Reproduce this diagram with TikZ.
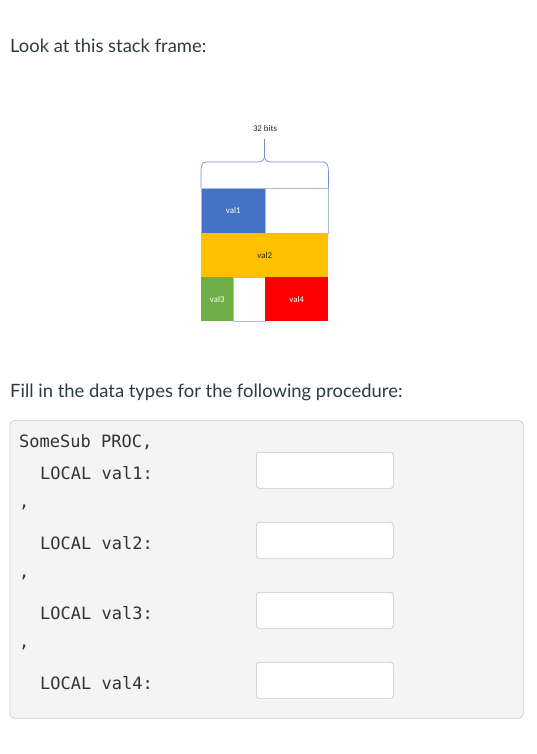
\documentclass[tikz,border=0pt]{standalone}
\usepackage{fontspec}
\setmainfont{Lato}
\newfontfamily\codefont{DejaVu Sans Mono}
\newfontfamily\calfont{Carlito}
\definecolor{txt}{HTML}{2D3B45}
\definecolor{codetxt}{HTML}{333333}
\definecolor{cblue}{HTML}{4472C4}
\definecolor{cyellow}{HTML}{FFC000}
\definecolor{cgreen}{HTML}{70AD47}
\definecolor{cred}{HTML}{FF0000}
\definecolor{cline}{HTML}{A9BCD9}
\definecolor{brace}{HTML}{7090CC}
\definecolor{panel}{HTML}{F4F4F4}
\definecolor{panelline}{HTML}{CBCBCB}
\definecolor{inline}{HTML}{C8C8C8}
\begin{document}
\begin{tikzpicture}[x=1pt,y=-1pt,
  prose/.style={anchor=base west, inner sep=0pt, text=txt, font=\fontsize{18.4}{22}\selectfont},
  code/.style={anchor=base west, inner sep=0pt, text=codetxt, font=\codefont\fontsize{17}{20}\selectfont},
  cell/.style={anchor=north west, inner sep=0pt, draw=cline, line width=0.4pt, font=\calfont\fontsize{8.8}{10}\selectfont},
  inbox/.style={anchor=north west, inner sep=0pt, draw=inline, fill=white, rounded corners=3pt, minimum width=137pt, minimum height=36pt, line width=0.7pt}]
\useasboundingbox (0,0) rectangle (537,754);
\fill[white] (0,0) rectangle (537,754);
% prose
\node[prose] (t1) at (10,53) {Look at this stack frame:};
\node[prose] (t2) at (10,397) {Fill in the data types for the following procedure:};
% stack frame
\node[cell, fill=cblue, text=white, minimum width=64pt, minimum height=45pt] (v1) at (201,188) {val1};
\node[cell, fill=white, minimum width=63pt, minimum height=45pt] (e1) at (265,188) {};
\node[cell, fill=cyellow, draw=none, text=black!85, minimum width=127pt, minimum height=44pt] (v2) at (201,233) {val2};
\node[cell, fill=cgreen, draw=none, text=white, minimum width=32pt, minimum height=44pt] (v3) at (201,277) {val3};
\node[cell, fill=white, minimum width=32pt, minimum height=44pt] (e3) at (233,277) {};
\node[cell, fill=cred, draw=none, text=white, minimum width=63pt, minimum height=44pt] (v4) at (265,277) {val4};
% brace
\coordinate (bl) at (v1.north west);
\coordinate (br) at (e1.north east);
\coordinate (bt) at (264.5,139);
\draw[brace, line width=0.7pt] (bl) -- ++(0,-17) to[out=90,in=180] ++(5,-9) -- (259,162) to[out=0,in=-90] (264.5,156) -- (bt);
\draw[brace, line width=0.7pt] (br) -- ++(0,-17) to[out=90,in=0] ++(-5,-9) -- (270,162) to[out=180,in=-90] (264.5,156);
\node[anchor=base, inner sep=0pt, font=\calfont\fontsize{8.8}{10}\selectfont, text=black!85] (bits) at (265,132) {32 bits};
% code panel
\node[anchor=north west, inner sep=0pt, draw=panelline, fill=panel, rounded corners=5pt, line width=0.7pt, minimum width=513.5pt, minimum height=298pt] (panel) at (9.5,420) {};
\node[code] (c0) at (19,447) {SomeSub PROC,};
\node[code] (c1) at (40,479.5) {LOCAL val1:};
\node[code] (k1) at (19,507) {,};
\node[code] (c2) at (40,549.5) {LOCAL val2:};
\node[code] (k2) at (19,577) {,};
\node[code] (c3) at (40,619.5) {LOCAL val3:};
\node[code] (k3) at (19,647) {,};
\node[code] (c4) at (40,689.5) {LOCAL val4:};
\node[inbox] (b1) at (256,452) {};
\node[inbox] (b2) at (256,522) {};
\node[inbox] (b3) at (256,592) {};
\node[inbox] (b4) at (256,662) {};
\end{tikzpicture}
\end{document}
